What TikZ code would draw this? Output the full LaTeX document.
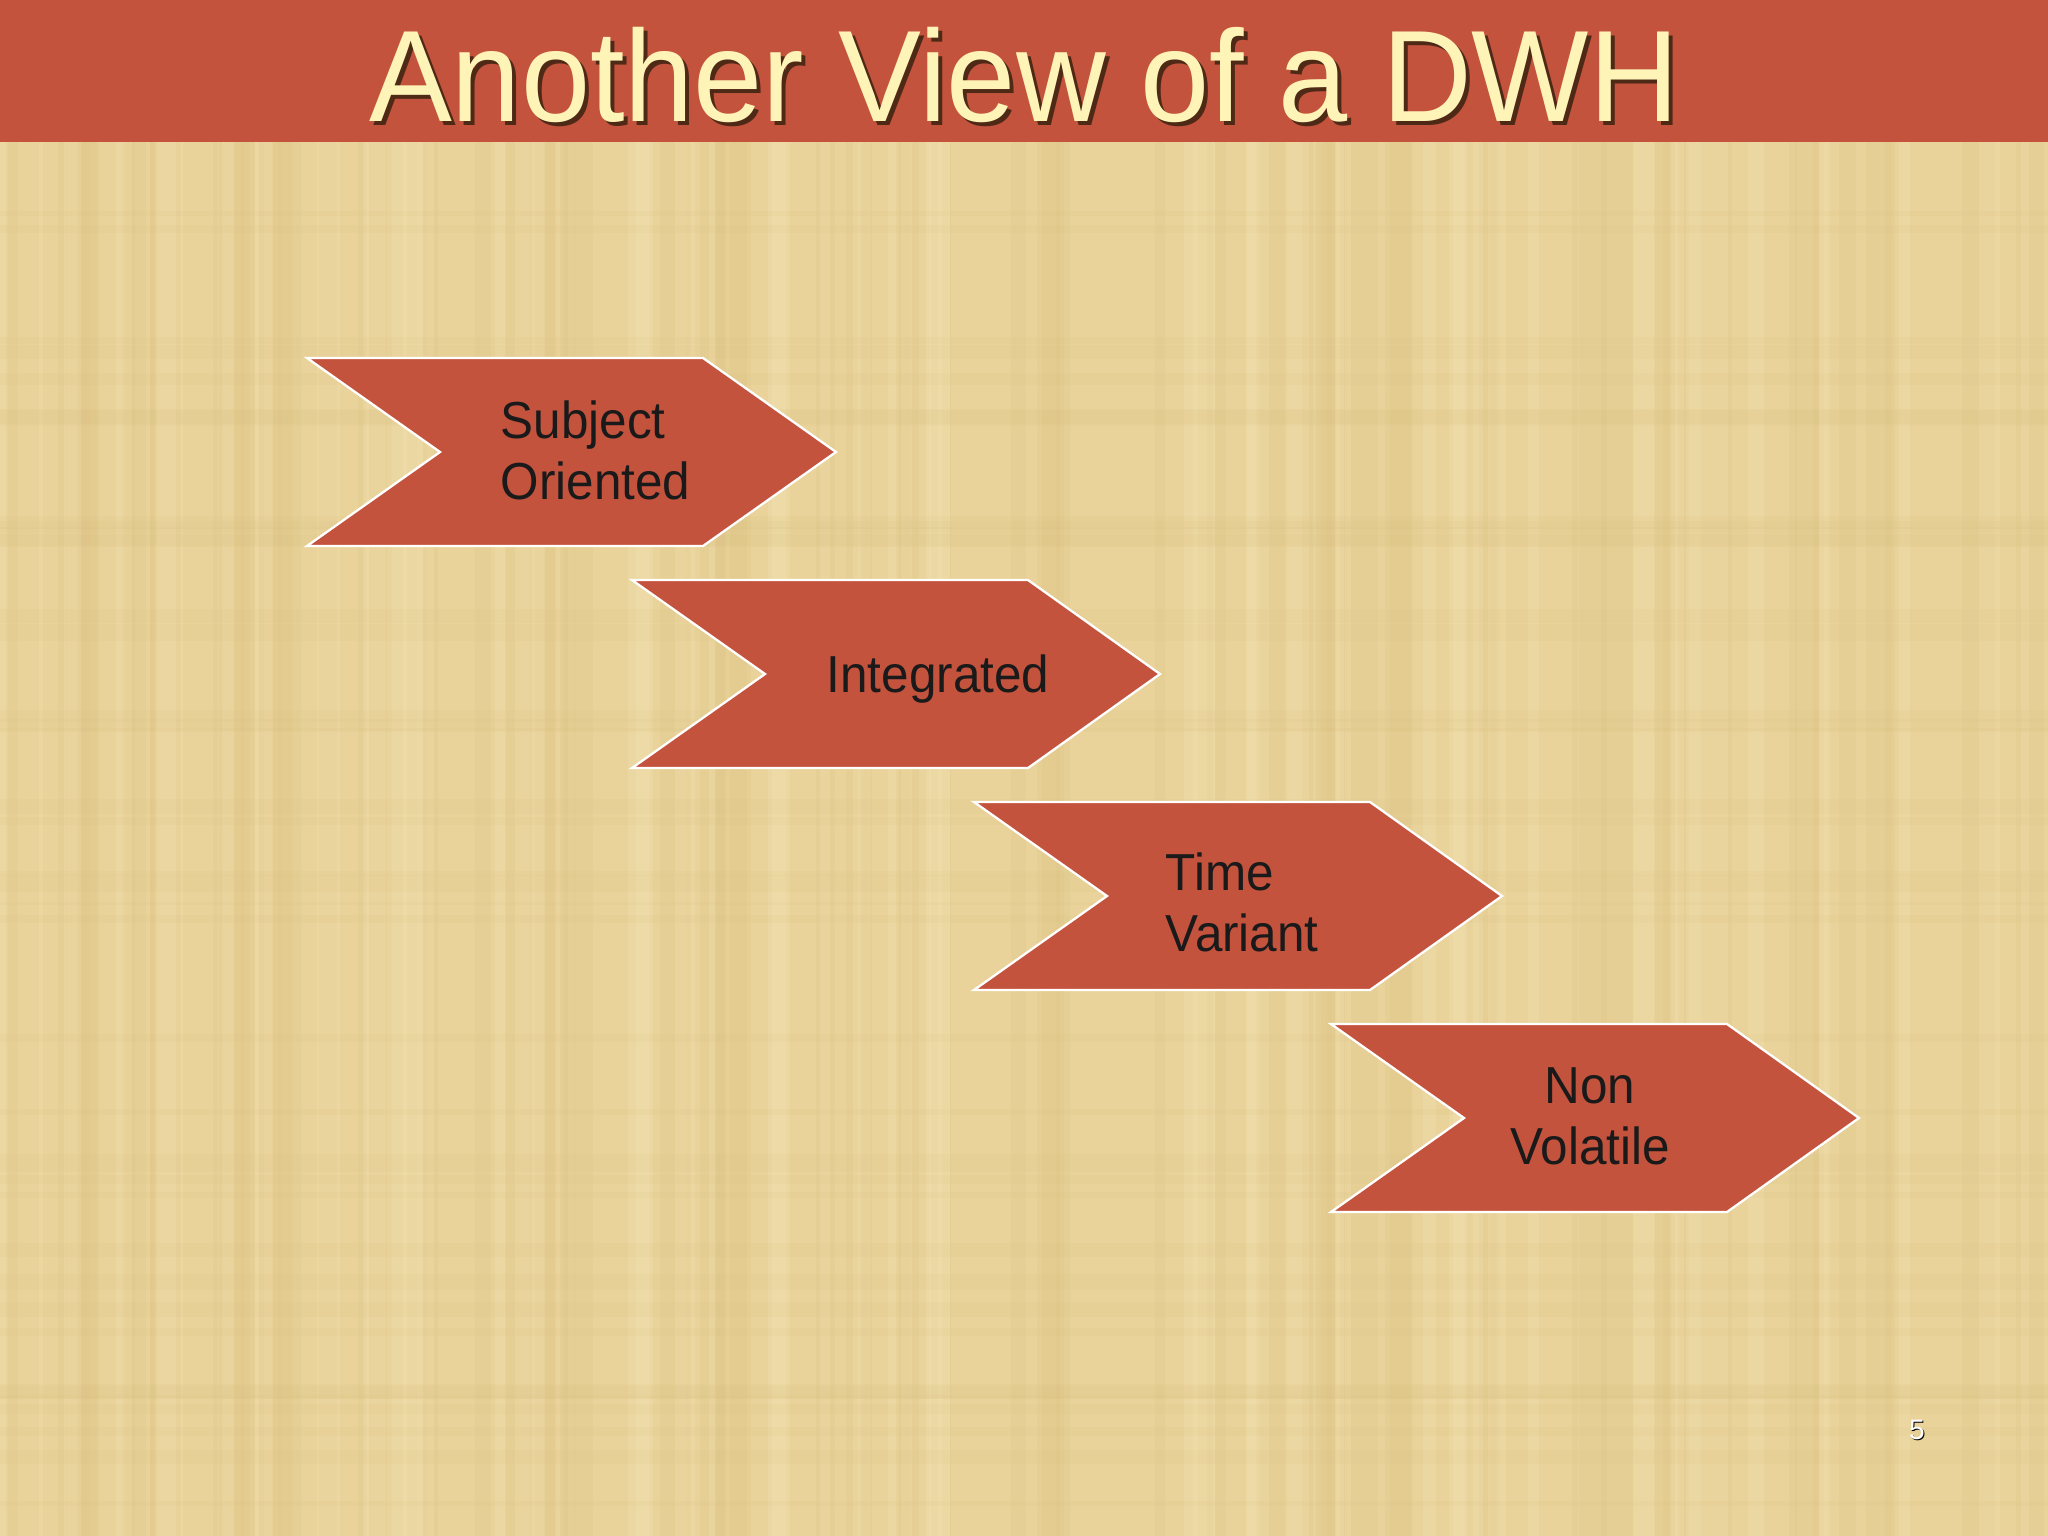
\documentclass[tikz,border=0pt]{standalone}
\usepackage{fontspec}
\setmainfont{Liberation Sans}
\newfontfamily\chevfont[FakeStretch=0.95]{Liberation Sans}
\newfontfamily\titlefont[FakeStretch=0.955]{Liberation Sans}
\definecolor{bgpaper}{HTML}{E9D39A}
\definecolor{bgdark}{HTML}{D8BD7A}
\definecolor{bglight}{HTML}{F4E5B8}
\definecolor{rust}{HTML}{C4533E}
\definecolor{inkdark}{HTML}{1A1A1A}
\definecolor{titlecream}{HTML}{FFF4B8}
\definecolor{titleshadow}{HTML}{3A2210}
\tikzset{
  chevron/.style={fill=rust, draw=white, line width=0.65pt, line join=miter},
  chevtext/.style={inner sep=0pt, text=inkdark, font=\chevfont\fontsize{14.8pt}{17.4pt}\selectfont},
  titletext/.style={anchor=base, inner sep=0pt, font=\titlefont\fontsize{37pt}{42pt}\selectfont},
}
\begin{document}
\begin{tikzpicture}[x=0.01cm, y=-0.01cm]
\useasboundingbox (0,0) rectangle (2048,1536);
% background paper
\fill[bgpaper] (0,0) rectangle (2048,1536);
\pgfmathsetseed{7}
\foreach \i in {1,...,70}{
  \pgfmathsetmacro{\xx}{rnd*2048}
  \pgfmathsetmacro{\ww}{4+rnd*30}
  \fill[bgdark, opacity=0.14] (\xx,142) rectangle ++(\ww,1394);
}
\foreach \i in {1,...,60}{
  \pgfmathsetmacro{\xx}{rnd*2048}
  \pgfmathsetmacro{\ww}{3+rnd*20}
  \fill[bglight, opacity=0.25] (\xx,142) rectangle ++(\ww,1394);
}
\foreach \i in {1,...,40}{
  \pgfmathsetmacro{\yy}{142+rnd*1394}
  \pgfmathsetmacro{\hh}{3+rnd*14}
  \fill[bgdark, opacity=0.10] (0,\yy) rectangle ++(2048,\hh);
}
% title bar
\fill[rust] (0,0) rectangle (2048,142);
\node[titletext, text=titleshadow, opacity=0.85] (titleshadow) at (1028,125) {Another View of a DWH};
\node[titletext, text=titlecream] (title) at (1024,121) {Another View of a DWH};
% chevrons
\path[chevron] (307,358) -- (703,358) -- (836,452) -- (703,546) -- (307,546) -- (440,452) -- cycle;
\path[chevron] (632,580) -- (1028,580) -- (1160,674) -- (1028,768) -- (632,768) -- (765,674) -- cycle;
\path[chevron] (974,802) -- (1370,802) -- (1502,896) -- (1370,990) -- (974,990) -- (1107,896) -- cycle;
\path[chevron] (1331,1024) -- (1727,1024) -- (1859,1118) -- (1727,1212) -- (1331,1212) -- (1464,1118) -- cycle;
% labels
\node[chevtext, anchor=west, align=left] (t1) at (500,450) {Subject\\Oriented};
\node[chevtext, anchor=base west] (t2) at (826,692) {Integrated};
\node[chevtext, anchor=west, align=left] (t3) at (1165,902) {Time\\Variant};
\node[chevtext, align=center] (t4) at (1590,1116) {Non\\Volatile};
% page number
\node[inner sep=0pt, text=black, font=\fontsize{8pt}{9pt}\selectfont] (pnshadow) at (1918,1431) {5};
\node[inner sep=0pt, text=white, font=\fontsize{8pt}{9pt}\selectfont] (pagenum) at (1917,1430) {5};
\end{tikzpicture}
\end{document}
